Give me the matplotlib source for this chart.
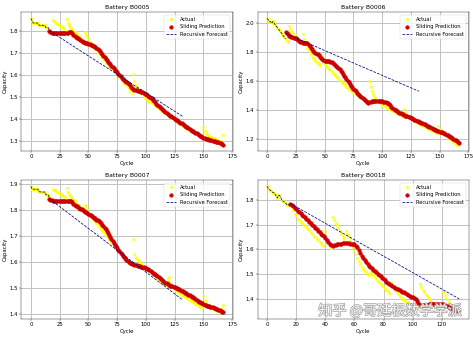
import matplotlib
matplotlib.use("Agg")
import matplotlib.pyplot as plt
import matplotlib.patheffects as pe
import numpy as np

# ---------------- data ----------------
titles = ["Battery B0005", "Battery B0006", "Battery B0007", "Battery B0018"]
pred_start = 16

b05_actual = [1.856, 1.846, 1.835, 1.835, 1.835, 1.835, 1.835, 1.825, 1.825, 1.825, 1.825, 1.824, 1.825, 1.814, 1.814, 1.814, 1.803,
              1.803, 1.793, 1.848, 1.843, 1.838, 1.836, 1.831, 1.828, 1.826, 1.821, 1.818, 1.812, 1.806, 1.801,
              1.855, 1.835, 1.826, 1.818, 1.811, 1.803, 1.797, 1.794, 1.790, 1.783, 1.778, 1.774, 1.769, 1.762, 1.757, 1.752,
              1.793, 1.782, 1.770, 1.759, 1.750, 1.742, 1.737, 1.730, 1.725, 1.717, 1.712, 1.705, 1.699, 1.693, 1.686, 1.680,
              1.673, 1.667, 1.660, 1.654, 1.648, 1.641, 1.636, 1.631, 1.625, 1.619, 1.614, 1.608, 1.602, 1.597, 1.591, 1.586,
              1.578, 1.570, 1.564, 1.557, 1.551, 1.545, 1.538, 1.531, 1.524, 1.518,
              1.605, 1.570, 1.555, 1.545, 1.537, 1.530, 1.523, 1.517, 1.510, 1.503, 1.496, 1.490, 1.484, 1.480, 1.478, 1.476,
              1.474, 1.470, 1.466, 1.462, 1.458, 1.454, 1.449, 1.445, 1.441, 1.437, 1.433, 1.429, 1.425, 1.421, 1.417, 1.413,
              1.409, 1.405, 1.401, 1.397, 1.393, 1.390, 1.386, 1.382, 1.379, 1.375, 1.372, 1.368, 1.365, 1.361, 1.358, 1.355,
              1.352, 1.348, 1.345, 1.342, 1.339, 1.336, 1.333, 1.330, 1.327, 1.324, 1.322, 1.319, 1.316,
              1.362, 1.345, 1.336, 1.330, 1.325, 1.321, 1.318, 1.315, 1.312, 1.310, 1.308, 1.306, 1.304, 1.302, 1.300, 1.298,
              1.296, 1.325]
b05_pred = [1.799, 1.795, 1.791, 1.789, 1.788, 1.788, 1.788, 1.788, 1.788, 1.788, 1.788, 1.788, 1.788, 1.789, 1.789,
            1.790, 1.792, 1.794, 1.794, 1.793, 1.788, 1.782, 1.777, 1.773, 1.769, 1.765, 1.762, 1.758, 1.755, 1.751, 1.748,
            1.746, 1.744, 1.742, 1.740, 1.738, 1.736, 1.734, 1.732, 1.730, 1.726, 1.722, 1.718, 1.713, 1.708, 1.701, 1.694,
            1.686, 1.679, 1.671, 1.665, 1.659, 1.653, 1.647, 1.641, 1.635, 1.629, 1.623, 1.617, 1.611, 1.605, 1.599, 1.593,
            1.587, 1.581, 1.576, 1.571, 1.566, 1.561, 1.556, 1.551, 1.546, 1.541, 1.536, 1.532, 1.530, 1.529, 1.528, 1.527,
            1.526, 1.523, 1.520, 1.516, 1.513, 1.510, 1.507, 1.503, 1.499, 1.496, 1.492, 1.486, 1.480, 1.474, 1.468, 1.462,
            1.458, 1.453, 1.449, 1.444, 1.440, 1.435, 1.431, 1.426, 1.422, 1.417, 1.414, 1.410, 1.407, 1.403, 1.400, 1.396,
            1.393, 1.389, 1.386, 1.382, 1.378, 1.375, 1.371, 1.368, 1.364, 1.360, 1.357, 1.353, 1.350, 1.346, 1.343, 1.340,
            1.336, 1.333, 1.330, 1.327, 1.323, 1.320, 1.316, 1.313, 1.311, 1.309, 1.308, 1.306, 1.304, 1.303, 1.301, 1.300,
            1.298, 1.297, 1.296, 1.294, 1.293, 1.291, 1.290, 1.286, 1.282]
b05_fc_x = [16, 30, 45, 60, 75, 90, 105, 120, 132]
b05_fc = [1.800, 1.753, 1.702, 1.652, 1.602, 1.551, 1.501, 1.450, 1.410]

b06_actual = [2.035, 2.025, 2.013, 2.013, 2.001, 2.014, 2.003, 1.991, 1.981, 1.970, 1.960, 1.950, 1.938, 1.927, 1.915, 1.904, 1.893,
              1.885, 1.875, 1.983, 1.965, 1.950, 1.940, 1.928, 1.918, 1.908, 1.898, 1.889, 1.880, 1.871, 1.862,
              1.925, 1.895, 1.870, 1.850, 1.832, 1.815, 1.800, 1.787, 1.775, 1.763, 1.752, 1.743, 1.735, 1.727, 1.720, 1.712,
              1.780, 1.760, 1.735, 1.718, 1.708, 1.700, 1.692, 1.684, 1.676, 1.668, 1.660, 1.652, 1.644, 1.636, 1.627, 1.619,
              1.610, 1.602, 1.594, 1.586, 1.578, 1.570, 1.562, 1.555, 1.549, 1.542, 1.536, 1.530, 1.524, 1.518, 1.512, 1.507,
              1.502, 1.497, 1.492, 1.487, 1.482, 1.477, 1.472, 1.467, 1.462, 1.457,
              1.600, 1.560, 1.530, 1.510, 1.495, 1.484, 1.475, 1.468, 1.460, 1.452, 1.445, 1.438, 1.432, 1.427, 1.422, 1.418,
              1.414, 1.410, 1.406, 1.401, 1.396, 1.392, 1.388, 1.384, 1.380, 1.376, 1.372, 1.368, 1.364, 1.360,
              1.405, 1.385, 1.370, 1.360, 1.352, 1.346, 1.341, 1.336, 1.331, 1.326, 1.321, 1.316, 1.311, 1.306, 1.301, 1.296,
              1.292, 1.288, 1.284, 1.280, 1.276, 1.272, 1.268, 1.264, 1.260, 1.256, 1.252, 1.248, 1.244, 1.240,
              1.290, 1.270, 1.258, 1.250, 1.243, 1.236, 1.229, 1.222, 1.215, 1.208, 1.201, 1.194, 1.187, 1.180, 1.173, 1.166,
              1.160, 1.175]
b06_pred = [1.944, 1.935, 1.925, 1.916, 1.910, 1.906, 1.903, 1.900, 1.898, 1.896, 1.892, 1.887, 1.881, 1.875, 1.870,
            1.868, 1.867, 1.867, 1.866, 1.862, 1.853, 1.842, 1.832, 1.822, 1.812, 1.805, 1.798, 1.791, 1.785, 1.778, 1.771,
            1.764, 1.757, 1.750, 1.743, 1.742, 1.740, 1.739, 1.737, 1.736, 1.731, 1.725, 1.719, 1.714, 1.708, 1.700, 1.691,
            1.681, 1.672, 1.662, 1.650, 1.639, 1.627, 1.616, 1.604, 1.592, 1.581, 1.569, 1.558, 1.546, 1.538, 1.530, 1.521,
            1.513, 1.505, 1.498, 1.492, 1.485, 1.479, 1.472, 1.465, 1.458, 1.451, 1.454, 1.458, 1.460, 1.461, 1.463, 1.464,
            1.465, 1.464, 1.463, 1.462, 1.461, 1.460, 1.458, 1.456, 1.453, 1.451, 1.449, 1.441, 1.432, 1.424, 1.415, 1.407,
            1.402, 1.397, 1.392, 1.387, 1.382, 1.378, 1.374, 1.369, 1.365, 1.361, 1.358, 1.355, 1.351, 1.348, 1.345, 1.341,
            1.337, 1.334, 1.330, 1.326, 1.322, 1.319, 1.315, 1.312, 1.308, 1.304, 1.300, 1.295, 1.291, 1.287, 1.283, 1.279,
            1.274, 1.270, 1.266, 1.263, 1.260, 1.256, 1.253, 1.250, 1.247, 1.244, 1.240, 1.237, 1.234, 1.229, 1.224, 1.220,
            1.215, 1.210, 1.205, 1.200, 1.195, 1.190, 1.185, 1.180, 1.174]
b06_fc_x = [16, 30, 45, 60, 75, 90, 105, 120, 132]
b06_fc = [1.930, 1.882, 1.830, 1.778, 1.726, 1.675, 1.623, 1.571, 1.530]

b07_actual = [1.891, 1.881, 1.880, 1.880, 1.880, 1.880, 1.880, 1.870, 1.870, 1.869, 1.869, 1.869, 1.869, 1.859, 1.858, 1.858, 1.848,
              1.846, 1.843, 1.880, 1.878, 1.875, 1.872, 1.869, 1.866, 1.864, 1.861, 1.858, 1.855, 1.852, 1.848,
              1.884, 1.870, 1.862, 1.855, 1.849, 1.843, 1.838, 1.833, 1.828, 1.823, 1.818, 1.814, 1.810, 1.806, 1.802, 1.798,
              1.818, 1.810, 1.800, 1.790, 1.783, 1.777, 1.772, 1.766, 1.761, 1.756, 1.750, 1.745, 1.739, 1.733, 1.727, 1.721,
              1.715, 1.709, 1.703, 1.698, 1.692, 1.687, 1.682, 1.676, 1.671, 1.666, 1.661, 1.656, 1.651, 1.646, 1.641, 1.636,
              1.631, 1.626, 1.621, 1.616, 1.611, 1.607, 1.603, 1.599, 1.596, 1.593,
              1.688, 1.630, 1.620, 1.612, 1.606, 1.601, 1.597, 1.593, 1.589, 1.585, 1.581, 1.577, 1.573, 1.569, 1.565, 1.561,
              1.557, 1.553, 1.549, 1.545, 1.541, 1.537, 1.533, 1.529, 1.525, 1.521, 1.518, 1.515, 1.512, 1.509,
              1.535, 1.540, 1.520, 1.510, 1.503, 1.498, 1.494, 1.490, 1.486, 1.482, 1.479, 1.476, 1.473, 1.470, 1.467, 1.464,
              1.462, 1.459, 1.456, 1.453, 1.450, 1.447, 1.444, 1.441, 1.438, 1.435, 1.432, 1.430, 1.428, 1.426, 1.424,
              1.468, 1.452, 1.443, 1.437, 1.432, 1.428, 1.425, 1.422, 1.419, 1.417, 1.415, 1.413, 1.411, 1.409, 1.407, 1.405,
              1.418, 1.432]
b07_pred = [1.843, 1.840, 1.837, 1.836, 1.835, 1.835, 1.835, 1.835, 1.835, 1.835, 1.835, 1.835, 1.835, 1.835, 1.835,
            1.835, 1.835, 1.835, 1.835, 1.836, 1.830, 1.824, 1.820, 1.817, 1.814, 1.811, 1.808, 1.805, 1.802, 1.799, 1.796,
            1.793, 1.791, 1.788, 1.785, 1.782, 1.779, 1.776, 1.773, 1.770, 1.767, 1.763, 1.760, 1.756, 1.753, 1.748, 1.742,
            1.736, 1.731, 1.725, 1.717, 1.709, 1.702, 1.694, 1.686, 1.679, 1.673, 1.666, 1.660, 1.653, 1.647, 1.641, 1.635,
            1.629, 1.623, 1.618, 1.613, 1.608, 1.603, 1.598, 1.596, 1.594, 1.592, 1.590, 1.588, 1.587, 1.586, 1.584, 1.583,
            1.582, 1.581, 1.580, 1.578, 1.577, 1.575, 1.572, 1.570, 1.567, 1.565, 1.562, 1.558, 1.554, 1.551, 1.547, 1.543,
            1.540, 1.536, 1.533, 1.529, 1.526, 1.523, 1.519, 1.516, 1.513, 1.510, 1.508, 1.506, 1.505, 1.503, 1.501, 1.499,
            1.497, 1.495, 1.493, 1.491, 1.488, 1.486, 1.483, 1.481, 1.478, 1.475, 1.473, 1.470, 1.468, 1.465, 1.462, 1.459,
            1.455, 1.452, 1.449, 1.446, 1.444, 1.441, 1.439, 1.436, 1.434, 1.433, 1.431, 1.430, 1.428, 1.427, 1.425, 1.424,
            1.422, 1.421, 1.419, 1.417, 1.415, 1.412, 1.410, 1.407, 1.404]
b07_fc_x = [16, 30, 45, 60, 75, 90, 105, 120, 132]
b07_fc = [1.843, 1.796, 1.745, 1.695, 1.644, 1.594, 1.543, 1.493, 1.452]

b18_actual = [1.855, 1.845, 1.840, 1.835, 1.830, 1.828, 1.818, 1.808, 1.820, 1.815, 1.800, 1.795, 1.790, 1.785, 1.778, 1.780, 1.776,
              1.770, 1.758, 1.745, 1.735, 1.725, 1.718, 1.712, 1.708, 1.703, 1.696, 1.690, 1.683, 1.677, 1.670, 1.663, 1.656,
              1.650, 1.643, 1.637, 1.630, 1.624, 1.618, 1.612,
              1.676, 1.640, 1.622, 1.612, 1.604,
              1.730, 1.720, 1.708, 1.697, 1.686, 1.675, 1.664, 1.652, 1.641,
              1.676, 1.664, 1.650, 1.636, 1.622, 1.608, 1.594, 1.580, 1.566, 1.553, 1.540, 1.530, 1.520, 1.512, 1.505, 1.500,
              1.497, 1.510, 1.503, 1.495, 1.488, 1.481, 1.474, 1.467, 1.460, 1.454, 1.448, 1.442, 1.436, 1.430, 1.425,
              1.470, 1.458, 1.447, 1.437, 1.428, 1.420, 1.413, 1.407, 1.401, 1.396, 1.391, 1.387, 1.383, 1.380, 1.377, 1.374,
              1.371, 1.368, 1.365, 1.362,
              1.460, 1.448, 1.437, 1.427, 1.418, 1.410, 1.402, 1.394, 1.387, 1.380, 1.374, 1.368, 1.362, 1.356, 1.350, 1.345,
              1.428, 1.415, 1.404, 1.394, 1.385, 1.377, 1.370, 1.363, 1.357, 1.351, 1.345]
b18_pred = [1.785, 1.780, 1.775, 1.768, 1.762, 1.757, 1.752, 1.746, 1.741, 1.736, 1.730, 1.724, 1.718, 1.712, 1.706,
            1.700, 1.694, 1.687, 1.681, 1.675, 1.670, 1.664, 1.659, 1.653, 1.648, 1.639, 1.630, 1.621, 1.617, 1.615, 1.617,
            1.618, 1.620, 1.621, 1.623, 1.623, 1.624, 1.624, 1.625, 1.625, 1.624, 1.623, 1.623, 1.622, 1.621, 1.615, 1.608,
            1.596, 1.584, 1.572, 1.564, 1.557, 1.549, 1.542, 1.534, 1.529, 1.523, 1.518, 1.512, 1.507, 1.502, 1.496, 1.491,
            1.485, 1.480, 1.475, 1.470, 1.466, 1.461, 1.456, 1.452, 1.449, 1.445, 1.442, 1.438, 1.435, 1.432, 1.429, 1.426,
            1.423, 1.420, 1.416, 1.413, 1.409, 1.406, 1.402, 1.398, 1.393, 1.384, 1.376, 1.376, 1.376, 1.377, 1.377, 1.377,
            1.378, 1.378, 1.379, 1.379, 1.380, 1.380, 1.380, 1.380, 1.380, 1.380, 1.378, 1.376, 1.373, 1.370, 1.366, 1.364,
            1.361, 1.358, 1.356, 1.353, 1.350]
b18_fc_x = [16, 30, 45, 60, 75, 90, 105, 120, 132]
b18_fc = [1.785, 1.739, 1.689, 1.639, 1.589, 1.540, 1.490, 1.440, 1.400]

xticks_main = [0, 25, 50, 75, 100, 125, 150, 175]
xticks_b18 = [0, 20, 40, 60, 80, 100, 120]

panels = [
    (b05_actual, b05_pred, b05_fc_x, b05_fc, xticks_main, [1.3, 1.4, 1.5, 1.6, 1.7, 1.8]),
    (b06_actual, b06_pred, b06_fc_x, b06_fc, xticks_main, [1.2, 1.4, 1.6, 1.8, 2.0]),
    (b07_actual, b07_pred, b07_fc_x, b07_fc, xticks_main, [1.4, 1.5, 1.6, 1.7, 1.8, 1.9]),
    (b18_actual, b18_pred, b18_fc_x, b18_fc, xticks_b18, [1.4, 1.5, 1.6, 1.7, 1.8]),
]

# ---------------- figure ----------------
DPI = 474 / 14.0
fig, axes = plt.subplots(2, 2, figsize=(14, 337 / DPI), dpi=DPI)
fig.subplots_adjust(left=0.045, right=0.989, top=0.964, bottom=0.054, wspace=0.118, hspace=0.21)

for ax, title, (act, pred, fcx, fc, xt, yt) in zip(axes.flat, titles, panels):
    cyc = np.arange(len(act))
    pcyc = np.arange(pred_start, pred_start + len(pred))
    ax.scatter(cyc, act, s=30, color='#ffff00', alpha=0.8, label='Actual', zorder=2)
    ax.plot(cyc[:pred_start + 1], act[:pred_start + 1], color='black', linestyle='--', linewidth=1.5, zorder=3)
    ax.scatter(pcyc, pred, s=60, color='#cc0000', label='Sliding Prediction', zorder=4)
    ax.plot(fcx, fc, color='navy', linestyle='--', linewidth=1.6, label='Recursive Forecast', zorder=5)
    ax.set_title(title, fontsize=13)
    ax.set_xlabel('Cycle', fontsize=11.5)
    ax.set_ylabel('Capacity', fontsize=11.5)
    ax.set_xticks(xt)
    ax.set_yticks(yt)
    ax.tick_params(labelsize=11.5)
    ax.grid(True, color='#c0c0c0', linewidth=2.0)
    ax.legend(loc='upper right', fontsize=11)

fig.text(0.823, 0.077, '知乎 @哥廷根数学学派', fontsize=30, ha='center', va='center',
         family=['Noto Sans CJK SC', 'DejaVu Sans'], color='white', alpha=0.9,
         path_effects=[pe.withStroke(linewidth=3, foreground='#999999')], zorder=10)

fig.savefig('out.png', dpi=DPI)
